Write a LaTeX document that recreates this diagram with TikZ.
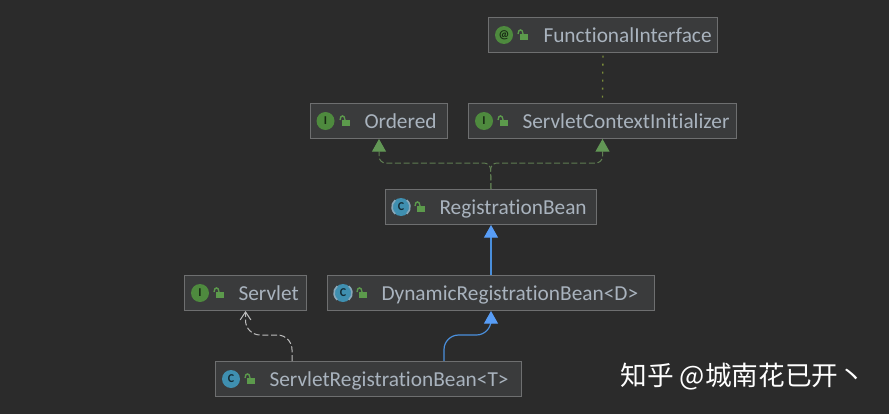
\documentclass[tikz,border=0pt]{standalone}
\usepackage{fontspec}
\setmainfont[Ligatures=NoCommon]{Carlito}
\newfontfamily\cjk{Noto Sans CJK SC}
\usetikzlibrary{arrows.meta}
\definecolor{bgdark}{HTML}{2B2B2B}
\definecolor{boxfill}{HTML}{3A3B3C}
\definecolor{boxline}{HTML}{6E6F70}
\definecolor{labelgrey}{HTML}{A9B3BE}
\definecolor{igreen}{HTML}{4E8A3E}
\definecolor{lockgreen}{HTML}{5C9A4C}
\definecolor{cblue}{HTML}{3F8FB0}
\definecolor{tipgreen}{HTML}{629755}
\definecolor{dashgreen}{HTML}{5F7D52}
\definecolor{dotgreen}{HTML}{7A8C3A}
\definecolor{lineblue}{HTML}{4A8FDC}
\definecolor{tipblue}{HTML}{589DF6}
\definecolor{depgrey}{HTML}{BDBDBD}
\tikzset{every picture/.style={line width=0.75pt}}
\tikzset{
  umlbox/.style={draw=boxline,fill=boxfill,anchor=north west,inner sep=0pt,minimum height=26.25pt},
  umltext/.style={anchor=base west,inner sep=0pt,text=labelgrey,font=\fontsize{16}{16}\selectfont},
  iconI/.style={circle,fill=igreen,inner sep=0pt,minimum size=13.5pt,text=black!70!igreen,font=\fontsize{9}{9}\selectfont\bfseries},
  iconC/.style={iconI,fill=cblue,text=black!70!cblue},
  implements/.style={dashgreen,dash pattern=on 4.5pt off 2pt,rounded corners=5pt,-{Triangle[length=9.5pt,width=10.5pt,color=tipgreen]}},
  extends/.style={lineblue,line width=0.9pt,rounded corners=11pt,-{Triangle[length=9.5pt,width=10.5pt,color=tipblue]}},
  depends/.style={depgrey,dash pattern=on 4.5pt off 2pt,rounded corners=11pt,-{Straight Barb[length=6pt,width=8pt]}},
  pics/lockicon/.style={code={
    \fill[lockgreen] (-3,1) rectangle (5,-5);
    \draw[lockgreen,line width=1pt] (-5,1) .. controls (-5,6.5) and (0,6.5) .. (0,1);
  }},
  pics/abstractmark/.style={code={
    \draw[labelgrey!70!cblue,line width=1.2pt] (-50:9) arc (-50:50:9);
    \draw[labelgrey!70!cblue,line width=1.2pt] (130:9) arc (130:230:9);
  }}
}
\begin{document}
\begin{tikzpicture}[x=0.75pt,y=0.75pt,yscale=-1,xscale=1]
    \fill[bgdark] (0,0) rectangle (889,414);
    % Boxes
    \node [umlbox,minimum width=171.75pt] (functional) at (488,17) {};
    \node [umlbox,minimum width=102.75pt] (ordered) at (310,103) {};
    \node [umlbox,minimum width=201pt] (initializer) at (468,103) {};
    \node [umlbox,minimum width=158.25pt] (registration) at (385,189) {};
    \node [umlbox,minimum width=91.5pt] (servlet) at (184,275) {};
    \node [umlbox,minimum width=245.25pt] (dynamic) at (327,275) {};
    \node [umlbox,minimum width=229.5pt] (servletreg) at (215,361) {};
    % Icons
    \node [iconI] (iconfunctional) at (504,35) {@};
    \draw (523,35) pic {lockicon};
    \node [iconI] (iconordered) at (325.5,121) {I};
    \draw (345,121) pic {lockicon};
    \node [iconI] (iconinitializer) at (484,121) {I};
    \draw (503,121) pic {lockicon};
    \node [iconC] (iconregistration) at (401,207) {C};
    \draw (401,207) pic {abstractmark};
    \draw (420,207) pic {lockicon};
    \node [iconI] (iconservlet) at (200,293) {I};
    \draw (219,293) pic {lockicon};
    \node [iconC] (icondynamic) at (343,293) {C};
    \draw (343,293) pic {abstractmark};
    \draw (362,293) pic {lockicon};
    \node [iconC] (iconservletreg) at (231,379) {C};
    \draw (250,379) pic {lockicon};
    % Text Node
    \node [umltext] (textfunctional) at (543,42) {FunctionalInterface};
    \node [umltext] (textordered) at (364,128) {Ordered};
    \node [umltext] (textinitializer) at (522,128) {ServletContextInitializer};
    \node [umltext] (textregistration) at (439,214) {RegistrationBean};
    \node [umltext] (textservlet) at (238,300) {Servlet};
    \node [umltext] (textdynamic) at (381,300) {DynamicRegistrationBean<D>};
    \node [umltext] (textservletreg) at (269,386) {ServletRegistrationBean<T>};
    \node [anchor=base west,inner sep=0pt,text=white,font=\cjk\fontsize{20}{20}\selectfont] (watermark) at (620,385) {知乎 @城南花已开丶};
    % Connectors
    \coordinate (fork) at (490.5,163);
    \coordinate (depstart) at (292,361);
    \coordinate (depturn) at (292,335);
    \coordinate (extstart) at (444,361);
    \coordinate (extturn) at (444,335);
    \draw [dotgreen,line width=1pt,dash pattern=on 1.5pt off 4.5pt,shorten <=2pt,shorten >=4pt] (functional.south) -- (initializer.north);
    \draw [implements] (registration.north) -- (fork) -| (ordered.south);
    \draw [implements] (registration.north) -- (fork) -| (initializer.south);
    \draw [extends] (dynamic.north) -- (registration.south);
    \draw [extends] (extstart) -- (extturn) -| (dynamic.south);
    \draw [depends] (depstart) -- (depturn) -| (servlet.south);
\end{tikzpicture}
\end{document}
